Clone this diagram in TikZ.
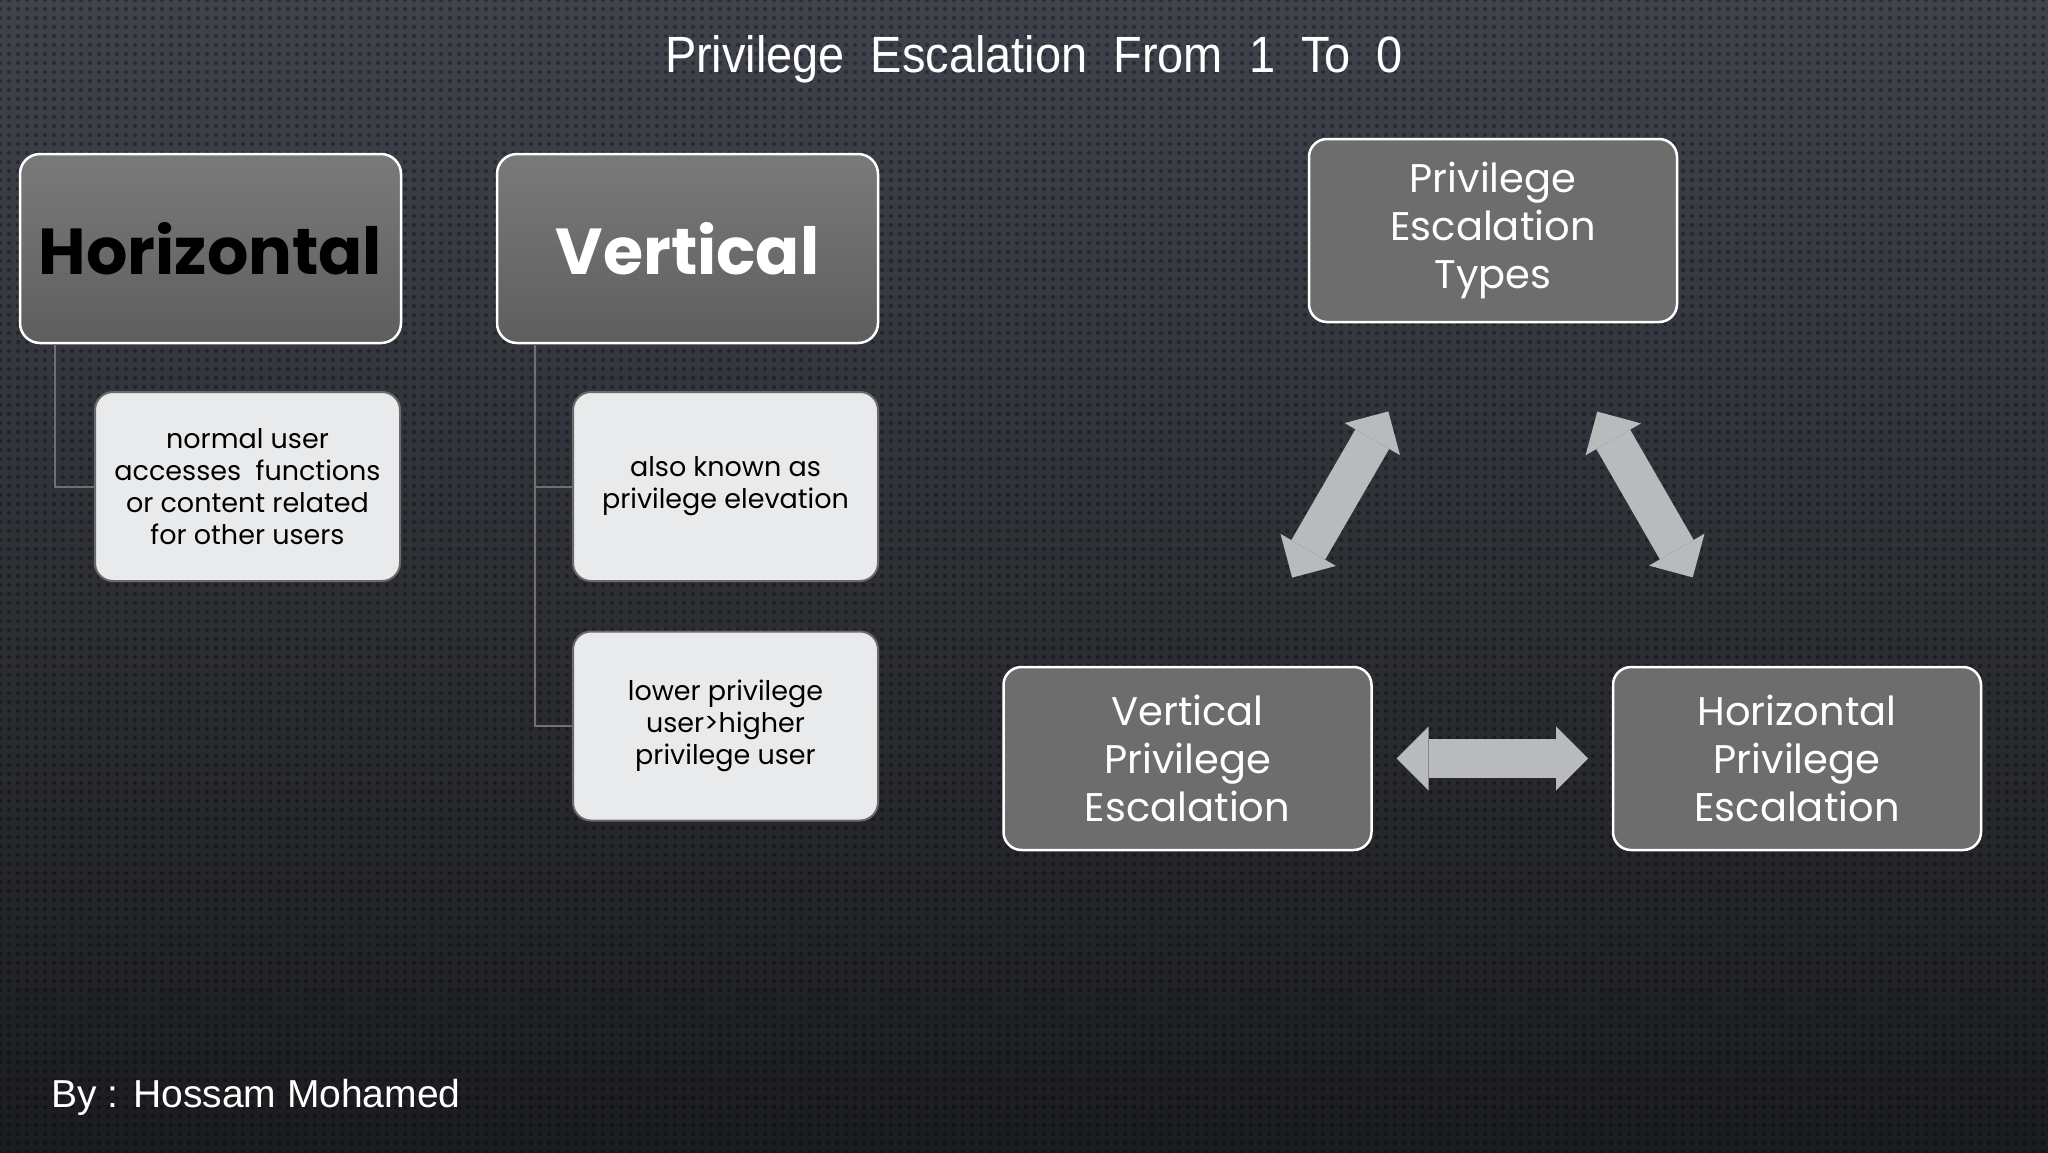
\documentclass[tikz,border=0pt]{standalone}
\usepackage{fontspec}
\setmainfont{Poppins}
\newfontfamily\titlefont[FakeStretch=0.92]{Liberation Sans}
\newfontfamily\footfont{Liberation Sans}
\usetikzlibrary{arrows.meta, patterns.meta}
\definecolor{bgtop}{HTML}{40434C}
\definecolor{bgbot}{HTML}{1B1C1F}
\definecolor{headtop}{HTML}{7A7A7A}
\definecolor{headbot}{HTML}{5E5E5E}
\definecolor{leaffill}{HTML}{E9EAEC}
\definecolor{leafline}{HTML}{6A6A6A}
\definecolor{typefill}{HTML}{6D6D6E}
\definecolor{arrowgray}{HTML}{B9BABC}
\definecolor{linkgray}{HTML}{707070}
\tikzdeclarepattern{
  name=bgdots, type=uncolored,
  bottom left={(-3pt,-3pt)}, top right={(3pt,3pt)},
  tile size={(9pt,9pt)},
  code={\fill (0pt,0pt) circle (2.2pt);}
}
\tikzset{
  headbox/.style={draw=white, line width=2.5pt, rounded corners=20pt,
    top color=headtop, bottom color=headbot, minimum width=381pt,
    minimum height=189pt, inner sep=0pt, font=\fontsize{65}{70}\selectfont\bfseries},
  leafbox/.style={draw=leafline, line width=2pt, rounded corners=18pt,
    fill=leaffill, minimum width=305pt, minimum height=189pt, inner sep=0pt,
    align=center, text=black, font=\fontsize{27}{32}\selectfont},
  typebox/.style={draw=white, line width=2.5pt, rounded corners=18pt,
    fill=typefill, text=white, minimum width=368pt, minimum height=183pt,
    inner sep=0pt, align=center, font=\fontsize{40}{48}\selectfont},
  link/.style={draw=linkgray, line width=2pt},
  bigarrow/.style={draw=arrowgray, line width=39pt,
    {Triangle[width=64pt,length=32pt,line width=0pt]}-{Triangle[width=64pt,length=32pt,line width=0pt]},
    shorten <=209pt, shorten >=209pt}
}
\begin{document}
\begin{tikzpicture}[x=1pt, y=-1pt]
  % Background
  \useasboundingbox (0,0) rectangle (2048,1152);
  \shade[top color=bgtop, bottom color=bgbot] (0,0) rectangle (2048,1152);
  \fill[pattern=bgdots, pattern color=black, opacity=0.3] (0,0) rectangle (2048,1152);
  % Title
  \node[anchor=base, text=white, font=\titlefont\fontsize{51}{56}\selectfont]
    (title) at (1034,72) {Privilege\ \ Escalation\ \ From\ \ 1\ \ To\ \ 0};
  % Left tree
  \node[headbox] (horiz) at (210.5,248.5) {Horizontal};
  \node[headbox, text=white] (vert) at (687.5,248.5) {Vertical};
  \node[leafbox] (hnote) at (247.5,486.5) {normal user\\accesses\ \ functions\\or content related\\for other users};
  \node[leafbox] (vnote1) at (725.5,486.5) {also known as\\privilege elevation};
  \node[leafbox] (vnote2) at (725.5,726) {lower privilege\\user>higher\\privilege user};
  \draw[link] ([xshift=36pt]horiz.south west) |- (hnote.west);
  \foreach \n in {vnote1, vnote2}
    \draw[link] ([xshift=39pt]vert.south west) |- (\n.west);
  % Right cycle
  \node[typebox] (types) at (1493,230.5) {Privilege\\Escalation\\Types};
  \node[typebox] (vpe) at (1187.5,758.5) {Vertical\\Privilege\\Escalation};
  \node[typebox] (hpe) at (1797,758.5) {Horizontal\\Privilege\\Escalation};
  \foreach \a/\b in {vpe/types, types/hpe, vpe/hpe}
    \draw[bigarrow] (\a.center) -- (\b.center);
  % Footer
  \node[anchor=base west, text=white, font=\footfont\fontsize{39}{42}\selectfont]
    (author) at (48,1107) {By : Hossam Mohamed};
\end{tikzpicture}
\end{document}
